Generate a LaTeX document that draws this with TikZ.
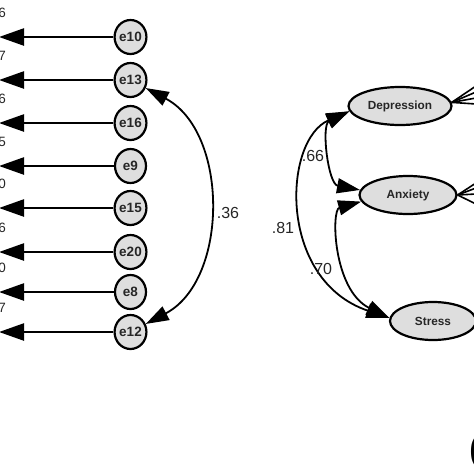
\documentclass[tikz,border=0pt]{standalone}
\usepackage{fontspec}
\setmainfont{Liberation Sans}
\newfontfamily\parenfont{Liberation Serif}
\usetikzlibrary{arrows.meta,shapes.geometric}
\begin{document}
\begin{tikzpicture}[x=1pt,y=-1pt,
  errnode/.style={ellipse,draw,line width=2.2pt,fill=black!13,minimum width=31pt,minimum height=34pt,inner sep=0pt,font=\fontsize{13.5}{14}\selectfont\bfseries,text=black!85},
  latnode/.style={ellipse,draw,line width=2.2pt,fill=black!13,minimum height=38pt,inner sep=0pt,font=\fontsize{11.8}{13}\selectfont\bfseries,text=black!85},
  loadarrow/.style={line width=2.4pt,-{Triangle[length=25pt,width=17pt]}},
  corr/.style={line width=1.8pt,{Triangle[length=23pt,width=15pt]}-{Triangle[length=23pt,width=15pt]}},
  coefflabel/.style={font=\fontsize{16}{18}\selectfont,text=black!85,inner sep=0pt},
  cutdigit/.style={font=\fontsize{13.5}{14}\selectfont,text=black!85,inner sep=0pt,anchor=east},
  fanline/.style={line width=1.6pt}]

\useasboundingbox (0,0) rectangle (474,474);

\foreach \nm/\yy/\dg in {10/37/6, 13/80/7, 16/123/6, 9/166/5, 15/208/0, 20/252/6, 8/292/0, 12/332/7} {
  \node[errnode] (e\nm) at (130.5,\yy) {e\nm};
  \coordinate (t\nm) at (-1,\yy);
  \draw[loadarrow] (e\nm) -- (t\nm);
  \node[cutdigit] (d\nm) at (6,\yy-24) {\dg};
}

\draw[corr] (e13) .. controls (229,132) and (229,280) .. (e12);
\node[coefflabel] (r36) at (228,213) {.36};

\node[latnode,minimum width=103pt] (dep) at (400,106) {Depression};
\node[latnode,minimum width=97pt] (anx) at (408,195) {Anxiety};
\node[latnode,minimum width=86pt] (str) at (433,321) {Stress};

\draw[corr] (dep.186) .. controls (321,125) and (328,184) .. (anx.174);
\draw[corr] (dep.186) .. controls (283,140) and (277,280) .. (str.176);
\draw[corr] (anx.188) .. controls (331,210) and (333,290) .. (str.176);

\node[coefflabel] (r66) at (313,156) {.66};
\node[coefflabel] (r81) at (283,228) {.81};
\node[coefflabel] (r70) at (321,269) {.70};

\coordinate (df1) at (476,86);
\coordinate (df2) at (476,92);
\coordinate (df3) at (476,98);
\coordinate (df4) at (476,104);
\foreach \k in {1,2,3,4} \draw[fanline] (dep.4) -- (df\k);

\coordinate (af1) at (476,183);
\coordinate (af2) at (476,188);
\coordinate (af3) at (476,194);
\coordinate (af4) at (476,204);
\foreach \k in {1,2,3,4} \draw[fanline] (anx.east) -- (af\k);

\node[font=\fontsize{44}{48}\selectfont\parenfont,inner sep=0pt,anchor=base west] (paren) at (469,462) {(};
\end{tikzpicture}
\end{document}
